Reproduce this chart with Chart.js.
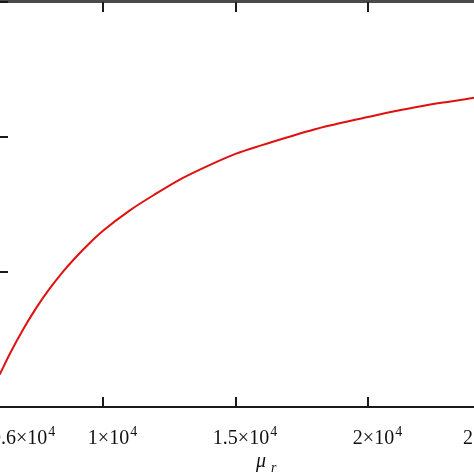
<!DOCTYPE html>
<html>
<head>
<meta charset="utf-8">
<script src="https://cdn.jsdelivr.net/npm/chart.js@4"></script>
<style>
  html, body { margin: 0; padding: 0; background: #fff; }
  #wrap { width: 474px; height: 474px; position: relative; }
</style>
</head>
<body>
<div id="wrap"><canvas id="muChart"></canvas></div>
<script>
// values (x = mu_r, y in arbitrary units, ticks every 1)
const muR = [6100, 6500, 7000, 7500, 8000, 8500, 9000, 9500, 10000, 11000, 12000,
             13000, 14000, 15000, 16000, 17000, 18000, 19000, 20000, 21000, 22000,
             23000, 24000];
const yValues = [0.24, 0.40, 0.58, 0.74, 0.88, 1.005, 1.115, 1.215, 1.305, 1.455, 1.58,
                 1.695, 1.79, 1.875, 1.94, 2.0, 2.057, 2.105, 2.148, 2.19, 2.228,
                 2.26, 2.29];
const xTickValues = [6000, 10000, 15000, 20000, 25000];
const xTickMantissa = ["0.6", "1", "1.5", "2", "2.5"];
const xTickExponent = "4";
const yTickValues = [0, 1, 2, 3];

// frame, inward ticks and the x labels, drawn like the original figure
const framePlugin = {
  id: "frame",
  afterDraw(chart) {
    const c = chart.ctx;
    const x = chart.scales.x, y = chart.scales.y;
    const bottom = y.getPixelForValue(0);
    const top = y.getPixelForValue(3);
    const left = x.getPixelForValue(6000);
    c.save();
    // top line
    c.strokeStyle = "#4a4a4a";
    c.lineWidth = 3;
    c.beginPath(); c.moveTo(0, top - 0.5); c.lineTo(474, top - 0.5); c.stroke();
    // bottom axis
    c.strokeStyle = "#1a1a1a";
    c.lineWidth = 2;
    c.beginPath(); c.moveTo(0, bottom); c.lineTo(474, bottom); c.stroke();
    // x ticks
    xTickValues.forEach(v => {
      const px = Math.round(x.getPixelForValue(v));
      c.beginPath(); c.moveTo(px, bottom); c.lineTo(px, bottom - 10); c.stroke();
      c.beginPath(); c.moveTo(px, top); c.lineTo(px, top + 10); c.stroke();
    });
    // y ticks from the (hidden) left axis
    yTickValues.forEach(v => {
      const py = Math.round(y.getPixelForValue(v));
      c.beginPath(); c.moveTo(left, py); c.lineTo(left + 11, py); c.stroke();
    });
    // x tick labels  a×10^4
    c.fillStyle = "#111";
    c.textBaseline = "alphabetic";
    const last = xTickValues.length - 1;
    xTickValues.forEach((v, i) => {
      const base = xTickMantissa[i] + "\u00d710";
      c.font = "20px 'Liberation Serif'";
      const wb = c.measureText(base).width;
      c.font = "14px 'Liberation Serif'";
      const we = c.measureText(xTickExponent).width;
      let cx = x.getPixelForValue(v) + 9;
      if (i === 0) cx = (wb + we) / 2 - 9;
      if (i === last) cx = 463 + (wb + we) / 2;
      const x0 = cx - (wb + we) / 2;
      c.font = "20px 'Liberation Serif'";
      c.fillText(base, x0, 444);
      c.font = "14px 'Liberation Serif'";
      c.fillText(xTickExponent, x0 + wb + 1, 436);
    });
    // axis title  mu_r
    c.font = "italic 20px 'Liberation Serif'";
    c.fillText("\u03bc", 256, 467);
    c.font = "italic 14px 'Liberation Serif'";
    c.fillText("r", 271, 472);
    c.restore();
  }
};

new Chart(document.getElementById("muChart"), {
  type: "line",
  data: {
    datasets: [{
      data: muR.map((m, i) => ({ x: m, y: yValues[i] })),
      borderColor: "#e01010",
      borderWidth: 2,
      pointRadius: 0,
      cubicInterpolationMode: "monotone",
      fill: false
    }]
  },
  options: {
    responsive: true,
    maintainAspectRatio: false,
    animation: false,
    layout: { padding: { top: 2, bottom: 67, left: 0, right: 0 } },
    plugins: { legend: { display: false }, tooltip: { enabled: false } },
    scales: {
      x: { type: "linear", min: 6113, max: 24000, display: false },
      y: { type: "linear", min: 0, max: 3, display: false }
    }
  },
  plugins: [framePlugin]
});
</script>
</body>
</html>
